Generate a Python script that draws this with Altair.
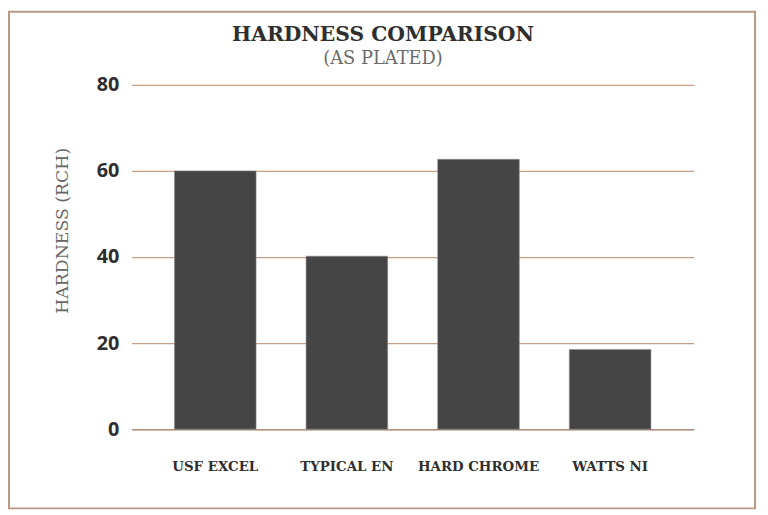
import altair as alt
import pandas as pd

# values
coatings = ["USF EXCEL", "TYPICAL EN", "HARD CHROME", "WATTS NI"]
hardness = [60.0, 40.2, 62.7, 18.5]
y_ticks = [0, 20, 40, 60, 80]

df = pd.DataFrame({"coating": coatings, "hardness": hardness})

TAN = "#c49f86"
DARK = "#454545"

bars = (
    alt.Chart(df)
    .mark_bar(color=DARK, stroke="#8c8c8c", strokeWidth=0.6)
    .encode(
        x=alt.X(
            "coating:N",
            sort=coatings,
            title=None,
            scale=alt.Scale(paddingInner=0.38, paddingOuter=0.325),
            axis=alt.Axis(
                labelAngle=0,
                ticks=False,
                labelPadding=31,
                labelFont="DejaVu Serif",
                labelFontWeight="bold",
                labelFontSize=13.5,
                labelColor="#2e2e2e",
                domainColor="#b08f7c",
                domainWidth=1.5,
            ),
        ),
        y=alt.Y(
            "hardness:Q",
            title="HARDNESS (RCH)",
            scale=alt.Scale(domain=[0, 80]),
            axis=alt.Axis(
                values=y_ticks,
                domain=False,
                ticks=False,
                labelPadding=13,
                labelFont="Open Sans",
                labelFontWeight="bold",
                labelFontSize=20,
                labelColor="#2e2e2e",
                gridColor=TAN,
                gridWidth=1.2,
                titleFont="DejaVu Serif",
                titleFontWeight="normal",
                titleFontSize=17.5,
                titleColor="#666666",
                titleAngle=-90,
                titleX=-70,
                titleY=147,
                titleBaseline="middle",
                titleAlign="center",
            ),
        ),
    )
)

# decorative frame around the whole picture
frame = (
    alt.Chart(alt.Data(values=[{}]))
    .mark_rect(fill=None, fillOpacity=0, stroke="#b79a86", strokeWidth=2)
    .encode(
        x=alt.value(-124),
        x2=alt.value(630),
        y=alt.value(-74),
        y2=alt.value(428),
    )
)

chart = (
    alt.layer(frame, bars)
    .properties(
        width=568,
        height=348,
        padding={"left": 125, "top": 75, "right": 67, "bottom": 84},
        autosize=alt.AutoSizeParams(type="none"),
        background="white",
        title=alt.TitleParams(
            "HARDNESS COMPARISON",
            subtitle="(AS PLATED)",
            anchor="middle",
            frame="group",
            dx=-30,
            dy=72,
            offset=14,
            font="DejaVu Serif",
            fontSize=20.5,
            fontWeight=900,
            color="#2e2e2e",
            subtitleFont="DejaVu Serif",
            subtitleFontSize=18,
            subtitleColor="#6b6b6b",
            subtitlePadding=5,
        ),
    )
    .configure_view(stroke=None)
)

chart.save("out.html", embed_options={"renderer": "svg", "actions": False})
